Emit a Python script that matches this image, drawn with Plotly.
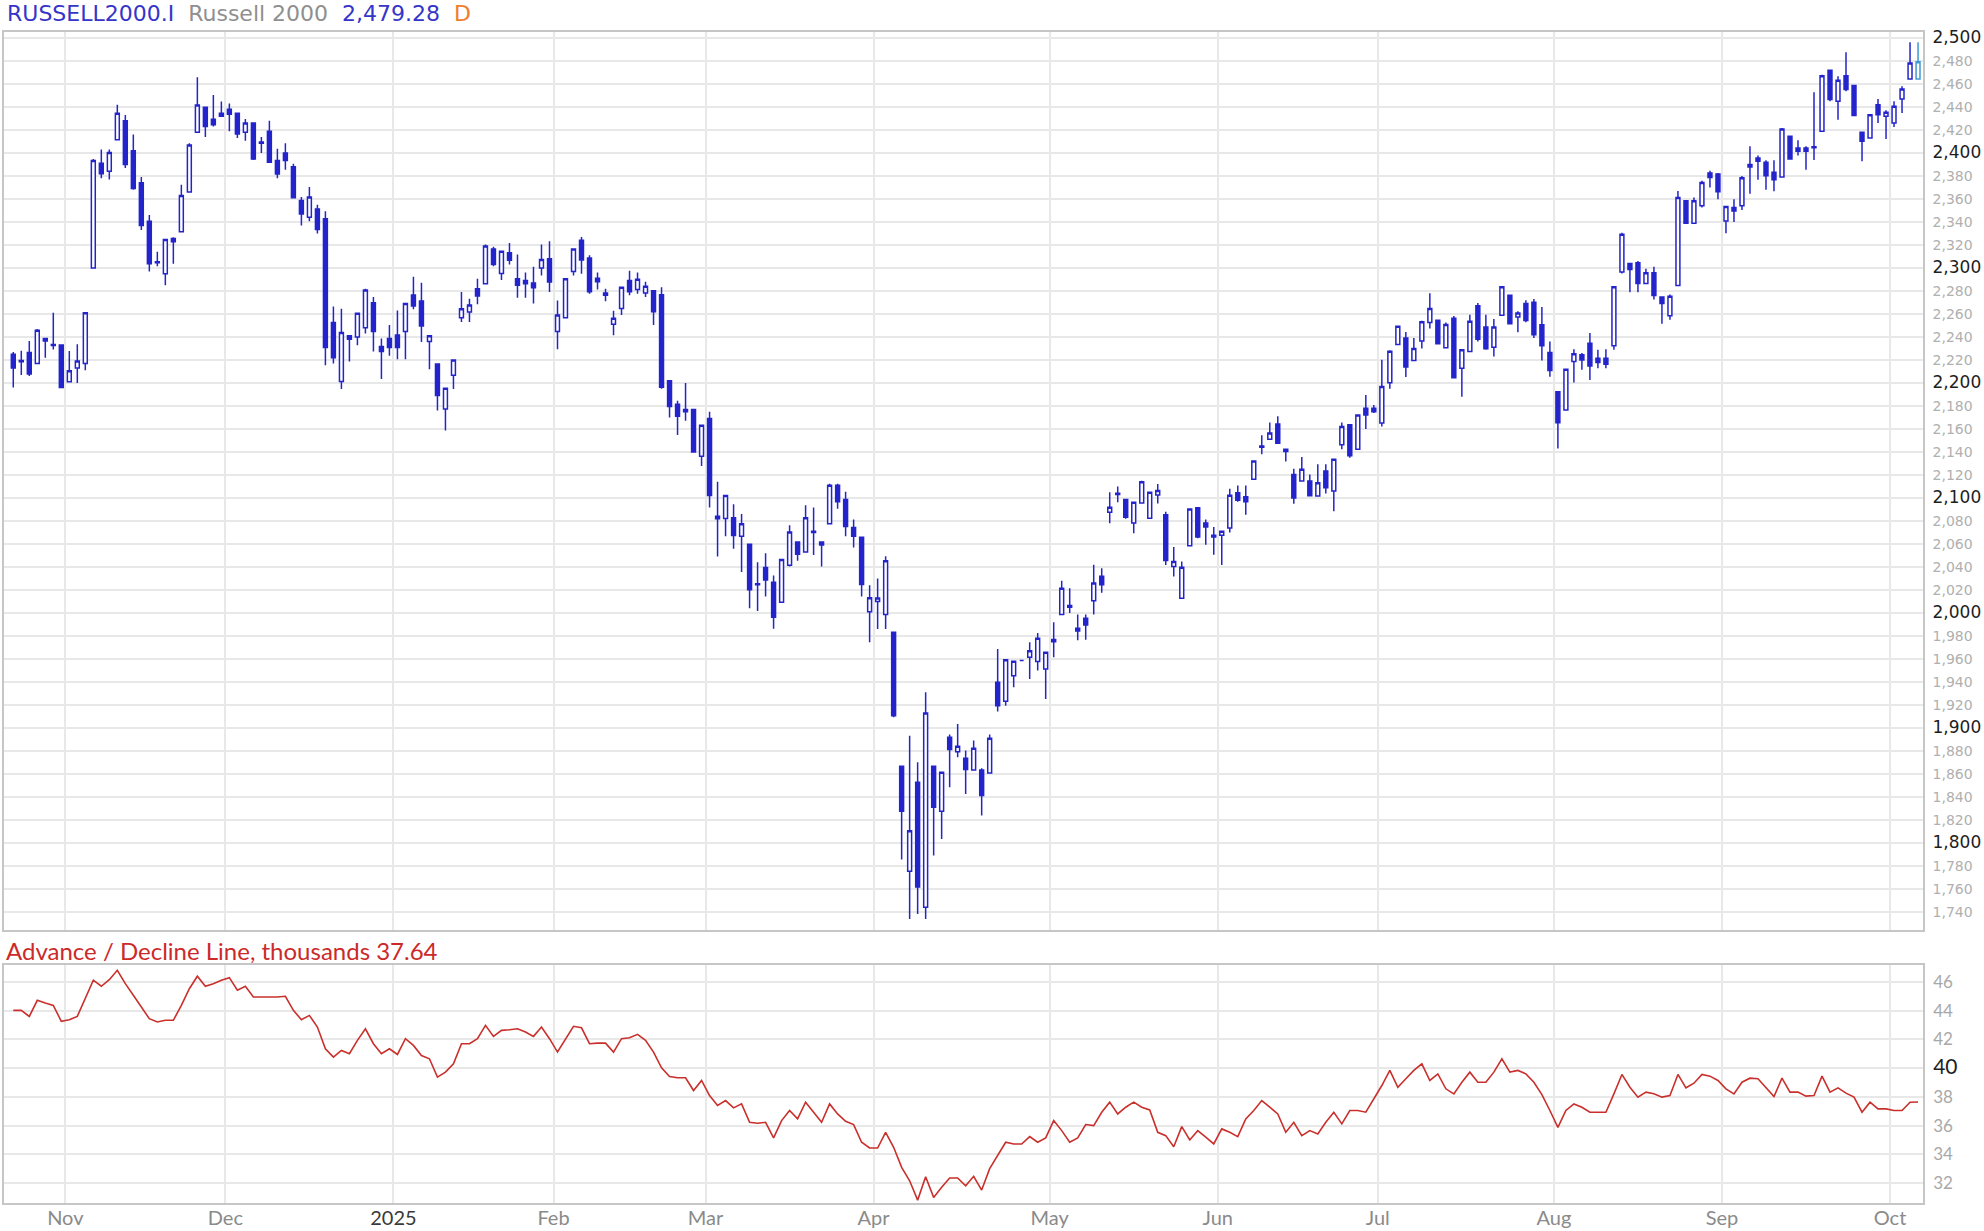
import pandas as pd
import plotly.graph_objects as go
from plotly.subplots import make_subplots

# ---------------- data ----------------
start_date = "2024-10-23"
end_date = "2025-10-06"
holidays = ["2024-11-28", "2024-12-25", "2025-01-01", "2025-01-09", "2025-01-20",
            "2025-02-17", "2025-05-26", "2025-06-19", "2025-07-04", "2025-09-01"]

open_ = [2225, 2219.5, 2226.5, 2217, 2238.6, 2233.5, 2233, 2201, 2213, 2217,
         2300, 2391, 2384, 2411.5, 2428, 2402, 2374, 2340.6, 2305.5, 2295,
         2325.6, 2331.4, 2366, 2418, 2439.8, 2429.4, 2434.6, 2438, 2434.6, 2418,
         2426, 2409.5, 2419, 2393.5, 2400, 2388, 2358.6, 2344, 2351.3, 2342.7,
         2252.5, 2201.3, 2241, 2240, 2248, 2269.8, 2231.7, 2238.6, 2241.8, 2244.7,
         2276.5, 2271.3, 2236, 2216.4, 2177.3, 2206.8, 2256.8, 2261.7, 2282, 2286.3,
         2316.6, 2295.3, 2313.2, 2290.6, 2289.2, 2287, 2300, 2308, 2244.7, 2256.8,
         2297, 2324, 2308.6, 2291, 2278.2, 2251, 2264.7, 2289, 2281.3, 2278.2,
         2280.2, 2276.7, 2202, 2181.5, 2177, 2177, 2136.2, 2169.1, 2084, 2082.1,
         2082.9, 2066.6, 2059.7, 2025.5, 2039.5, 2026.8, 2009.4, 2041.5, 2061.6, 2053,
         2070, 2061.6, 2077.5, 2111.1, 2098.7, 2074.3, 2065.8, 2001, 2010, 1998.6,
         1983.2, 1866.7, 1775.4, 1852.8, 1744.1, 1866.7, 1827.5, 1891.9, 1879.4, 1873.6,
         1863.5, 1863.5, 1860.9, 1939.7, 1923.2, 1945.5, 1958.6, 1961.4, 1957.7, 1951.3,
         1975, 1998.6, 2006.5, 1986.7, 1995.4, 2010.7, 2031.9, 2087.5, 2104, 2098.6,
         2078.3, 2095.7, 2082.3, 2102.6, 2085.5, 2040.4, 2012.7, 2058.4, 2091.4, 2078.3,
         2067.5, 2067.5, 2073.9, 2104.5, 2101, 2116.2, 2145.2, 2151, 2164.3, 2142.4,
         2120.5, 2114.7, 2114.7, 2101.6, 2123.4, 2106, 2146.2, 2163.7, 2142.4, 2178,
         2178, 2165.1, 2200.1, 2233.4, 2239.2, 2219.6, 2236.6, 2252.6, 2254.6, 2230.7,
         2256.2, 2212.8, 2227.4, 2267.2, 2248.6, 2231.1, 2258.8, 2276.3, 2257.4, 2269,
         2270.2, 2250.7, 2226.5, 2192.4, 2176.4, 2218.6, 2224.5, 2234.6, 2221.6, 2221.6,
         2232.3, 2296.4, 2303.9, 2304.5, 2286.5, 2295.8, 2274.8, 2258.5, 2284.7, 2358.4,
         2338.9, 2354, 2382.5, 2381.7, 2340.9, 2352.5, 2354, 2389.9, 2395.7, 2391.9,
         2383.2, 2379.1, 2414.5, 2404.3, 2404.3, 2404.5, 2418.8, 2471.9, 2444.9, 2467.2,
         2458.6, 2418, 2413, 2442, 2431.9, 2426.1, 2447, 2464.3, 2464.3]

high = [2227, 2228, 2236.6, 2247, 2238.6, 2261, 2233.5, 2227.7, 2233.7, 2261,
        2394.7, 2403, 2403, 2442, 2433, 2416, 2379, 2346, 2314, 2324.7,
        2326.8, 2372.4, 2408.4, 2465.8, 2439.8, 2450.5, 2444.7, 2443, 2434.6, 2429.5,
        2426, 2414, 2428, 2403.6, 2408.5, 2390.6, 2361.7, 2370.4, 2355, 2349.3,
        2266.4, 2264.6, 2241, 2260.6, 2282, 2274.7, 2238.6, 2250.5, 2263, 2269.2,
        2292.4, 2287.2, 2241, 2216.4, 2195.3, 2220.7, 2279, 2273.3, 2290.6, 2320.4,
        2318.4, 2314.6, 2321.8, 2311.7, 2296, 2301, 2320.4, 2323.3, 2271.8, 2290.6,
        2316.6, 2327, 2311, 2296, 2282, 2262.7, 2283.2, 2297.6, 2296, 2288,
        2280.2, 2283.2, 2202, 2184.6, 2200, 2177, 2163.3, 2174.9, 2114, 2102.2,
        2094.5, 2086, 2059.7, 2044.2, 2051.9, 2032.6, 2046.5, 2076.3, 2061.6, 2093.7,
        2091.8, 2061.6, 2112.3, 2112.3, 2105.3, 2081.3, 2065.8, 2024, 2029.9, 2049.3,
        1983.2, 1866.7, 1893.3, 1870.1, 1931, 1866.7, 1861.4, 1894.2, 1903.5, 1880.3,
        1889, 1865, 1894.2, 1968.7, 1960, 1958, 1958.6, 1974.5, 1982.6, 1965.8,
        1991.9, 2028, 2021.4, 1998.6, 1998.6, 2042, 2038.8, 2104.9, 2110, 2099,
        2096.2, 2115, 2104.9, 2112.2, 2088, 2057.3, 2044.7, 2090.5, 2092.2, 2081.2,
        2074.8, 2071, 2108, 2110.9, 2110.9, 2132.2, 2154.6, 2165.7, 2171, 2142.4,
        2125.5, 2135.7, 2120.5, 2129.3, 2129.3, 2133.6, 2165.7, 2164.3, 2172.1, 2189.6,
        2180.9, 2220.2, 2228.4, 2249.4, 2244.4, 2239.2, 2254, 2278, 2254.6, 2252.6,
        2258.2, 2228.8, 2259.4, 2269.6, 2259.4, 2255.6, 2283.6, 2276.3, 2262.3, 2271.9,
        2273, 2266.1, 2236, 2192.4, 2212, 2229.4, 2226, 2243.4, 2228.8, 2229.4,
        2283.6, 2330.7, 2303.9, 2306, 2299.3, 2301, 2274.8, 2276.9, 2367, 2358.4,
        2361.3, 2375.8, 2384.6, 2382.5, 2353.4, 2359.8, 2380, 2405.8, 2397.7, 2393.6,
        2393.6, 2421.7, 2414.5, 2411, 2405.8, 2452.8, 2468.1, 2471.9, 2466.7, 2487.5,
        2459.4, 2418, 2433.3, 2447, 2437.1, 2444.9, 2458, 2496.2, 2496.2]

low = [2196, 2207, 2206, 2217, 2222, 2229, 2196, 2201, 2200, 2211,
       2300, 2378, 2377, 2411.5, 2387, 2368, 2333, 2297, 2301.6, 2285,
       2303.6, 2331.4, 2366, 2418, 2414, 2423, 2432, 2419, 2413, 2410.7,
       2394, 2400, 2392, 2378, 2385.5, 2361, 2337, 2340.6, 2330, 2215.5,
       2217, 2194.7, 2218.7, 2232.8, 2243, 2227.3, 2203.4, 2223.6, 2220.7, 2220.7,
       2264, 2235.7, 2212, 2176, 2158.6, 2194.7, 2253, 2253, 2268.4, 2286.3,
       2301.6, 2289.5, 2303, 2274, 2274, 2269, 2293.5, 2279, 2229.4, 2256.8,
       2293.5, 2295, 2277.5, 2281.3, 2271, 2241.5, 2259, 2276.3, 2277.5, 2274.7,
       2250.4, 2195, 2170, 2154.8, 2167.2, 2139.3, 2127.7, 2091.8, 2049.2, 2066.6,
       2055.8, 2035.7, 2004, 2001.6, 2014.4, 1986.2, 2009.4, 2040.3, 2045.3, 2053,
       2050.4, 2040.3, 2077.5, 2090.6, 2066.6, 2056.9, 2014.4, 1974.5, 1986, 1986,
       1909.3, 1785.5, 1733.9, 1738.3, 1733.9, 1789, 1803.5, 1848.4, 1874.5, 1842.6,
       1863.5, 1823.8, 1860.9, 1914.2, 1919.4, 1935.4, 1958.6, 1942.6, 1949.9, 1925.2,
       1961.4, 1998.6, 2000, 1976.2, 1976.8, 1998.6, 2017.5, 2078, 2096.2, 2082,
       2069.3, 2095.7, 2082.3, 2095.1, 2041.8, 2031.6, 2012.7, 2058.4, 2065, 2059.3,
       2050.6, 2041.8, 2070, 2096.6, 2085.5, 2116.2, 2138, 2151, 2147.6, 2131.6,
       2094.9, 2114.7, 2102, 2101, 2103.9, 2088.5, 2142.4, 2135, 2142.4, 2160,
       2173.9, 2162.2, 2194.9, 2233.4, 2205.1, 2219.6, 2229.9, 2247.3, 2233.4, 2230.7,
       2204.5, 2188, 2227.4, 2236, 2228.8, 2223, 2258.8, 2251.5, 2244, 2252.7,
       2239, 2219.5, 2205.5, 2143, 2176.4, 2200.3, 2211.4, 2202.6, 2212.8, 2212.8,
       2228.8, 2295.2, 2278.9, 2278.9, 2286.5, 2272.5, 2251.5, 2255, 2284.7, 2338.9,
       2338.9, 2352.5, 2370, 2359.8, 2330.1, 2340, 2350.5, 2364.6, 2376.8, 2368.1,
       2366.7, 2379.1, 2394.8, 2397.7, 2385.5, 2394, 2418.8, 2444.9, 2429, 2453.6,
       2432.5, 2392.8, 2413, 2426.1, 2412.2, 2422.6, 2434.8, 2464.3, 2464.3]

close = [2213, 2218.5, 2207.7, 2245.8, 2236.6, 2232.5, 2196, 2210.6, 2219, 2261,
         2393.5, 2382, 2400.5, 2434.6, 2390, 2369, 2337, 2303.6, 2304.5, 2324.7,
         2322.7, 2363, 2407, 2441.8, 2423, 2424.5, 2432, 2433.7, 2416.4, 2426,
         2394.7, 2408.5, 2392, 2381.7, 2393.5, 2361, 2347, 2361.7, 2333.4, 2230.8,
         2222, 2243.8, 2238, 2260.6, 2280.8, 2244.7, 2227.3, 2230.8, 2230.8, 2269.2,
         2267, 2249.6, 2241, 2189, 2195.3, 2220, 2264.6, 2267.8, 2275.6, 2319,
         2303, 2314.6, 2306.8, 2285, 2286.3, 2282.8, 2307.4, 2287.7, 2259.1, 2290.6,
         2316.6, 2307, 2279.4, 2288, 2276.3, 2256.2, 2283.2, 2279.4, 2290.2, 2284,
         2262, 2196.2, 2179.6, 2171, 2175, 2140, 2163.3, 2102.2, 2082, 2102.2,
         2067.4, 2077.5, 2020.2, 2024.5, 2028.7, 1996.2, 2046.5, 2070.5, 2051.1, 2082.9,
         2071, 2059, 2111.1, 2096.8, 2075.1, 2066.6, 2024.8, 2013.2, 2013, 2045.5,
         1910.7, 1827.5, 1810.7, 1761.6, 1913, 1831, 1861.4, 1881.2, 1884, 1863.8,
         1882.3, 1841.2, 1891, 1919.4, 1959.4, 1958, 1958.6, 1967.2, 1978, 1965.8,
         1977, 2021.4, 2005, 1984.4, 1989.6, 2026, 2024.6, 2091.9, 2103, 2083.2,
         2096.2, 2114.2, 2104.9, 2106.4, 2045.6, 2044.7, 2039.8, 2090.5, 2066, 2074.8,
         2066, 2071, 2102.4, 2098, 2096.6, 2132.2, 2144.2, 2156.4, 2147.6, 2140.4,
         2100, 2124.9, 2102, 2113.2, 2108.9, 2133.6, 2162.2, 2136.6, 2172.1, 2172.1,
         2175, 2196.9, 2227.5, 2249.4, 2213.8, 2229.9, 2253.2, 2264.8, 2234.2, 2250.8,
         2204.5, 2228.8, 2253.6, 2238, 2229.7, 2248.6, 2283.6, 2251.5, 2260.8, 2254.4,
         2242, 2232.3, 2210.8, 2165.4, 2212, 2225.3, 2220, 2214.8, 2217.8, 2216.3,
         2283.6, 2329.3, 2298.7, 2286.5, 2295.8, 2276, 2269, 2275.4, 2361.3, 2338.9,
         2358.4, 2374.4, 2378.7, 2366.2, 2353.4, 2349.6, 2378.5, 2387.8, 2392.8, 2380.3,
         2376.8, 2420.9, 2394.8, 2401.4, 2401.4, 2405.5, 2467.2, 2446.4, 2463.2, 2455.1,
         2432.5, 2410.1, 2433.3, 2433.3, 2435.4, 2440.6, 2455.6, 2478.3, 2479.28]

ad_line = [44.02, 44.02, 43.6, 44.72, 44.53, 44.37, 43.26, 43.37, 43.6, 44.84,
           46.12, 45.7, 46.16, 46.81, 45.88, 45.07, 44.26, 43.44, 43.21, 43.33,
           43.33, 44.37, 45.53, 46.4, 45.7, 45.88, 46.12, 46.3, 45.42, 45.7,
           44.95, 44.95, 44.9, 44.95, 45.0, 44.02, 43.37, 43.67, 42.86, 41.35,
           40.77, 41.23, 41.0, 41.93, 42.74, 41.7, 41.0, 41.35, 40.95, 42.05,
           41.58, 40.88, 40.65, 39.37, 39.72, 40.3, 41.7, 41.7, 42.05, 42.98,
           42.21, 42.63, 42.67, 42.74, 42.51, 42.21, 42.86, 42.05, 41.12, 42.05,
           42.91, 42.81, 41.7, 41.74, 41.74, 41.12, 42.05, 42.12, 42.35, 41.93,
           41.12, 40.02, 39.42, 39.33, 39.33, 38.44, 39.14, 38.09, 37.4, 37.74,
           37.23, 37.51, 36.23, 36.16, 36.23, 35.14, 36.35, 37.05, 36.47, 37.63,
           36.93, 36.23, 37.51, 36.81, 36.3, 36.07, 34.84, 34.44, 34.44, 35.53,
           34.49, 33.09, 32.16, 30.81, 32.44, 31.0, 31.7, 32.35, 32.35, 31.81,
           32.47, 31.51, 33.0, 33.9, 34.84, 34.72, 34.72, 35.23, 34.84, 35.14,
           36.35, 35.65, 34.84, 35.14, 36.07, 36.0, 36.93, 37.63, 36.81, 37.28,
           37.63, 37.28, 37.09, 35.53, 35.3, 34.53, 35.93, 35.0, 35.65, 35.19,
           34.72, 35.77, 35.53, 35.23, 36.47, 37.05, 37.74, 37.28, 36.81, 35.53,
           36.23, 35.3, 35.65, 35.42, 36.23, 36.93, 36.12, 37.05, 37.05, 36.93,
           37.86, 38.79, 39.84, 38.67, 39.26, 39.84, 40.3, 39.14, 39.6, 38.56,
           38.21, 39.02, 39.72, 39.02, 39.02, 39.72, 40.65, 39.72, 39.84, 39.6,
           39.02, 38.16, 37.05, 35.88, 37.05, 37.51, 37.28, 36.93, 36.93, 36.93,
           38.21, 39.56, 38.67, 37.98, 38.33, 38.21, 37.98, 38.09, 39.56, 38.63,
           38.95, 39.56, 39.44, 39.14, 38.56, 38.21, 39.02, 39.3, 39.26, 38.67,
           38.02, 39.3, 38.33, 38.33, 38.05, 38.09, 39.44, 38.33, 38.63, 38.26,
           37.98, 36.93, 37.63, 37.16, 37.16, 37.05, 37.05, 37.63, 37.64]

month_labels = ["Nov", "Dec", "2025", "Feb", "Mar", "Apr", "May", "Jun",
                "Jul", "Aug", "Sep", "Oct"]
price_ticks = list(range(1740, 2501, 20))
ad_ticks = list(range(32, 47, 2))

symbol = "RUSSELL2000.I"
name = "Russell 2000"
last_price = "2,479.28"
period = "D"
ad_title = "Advance / Decline Line, thousands 37.64"

# ---------------- derived ----------------
dates = pd.bdate_range(start_date, end_date, freq="C", holidays=holidays)
n = len(close)
assert len(dates) == n == len(open_) == len(high) == len(low) == len(ad_line)
idx = list(range(n))
month_start = [i for i in range(n) if i == 0 or dates[i].month != dates[i - 1].month][1:]
grid_x = [i - 0.5 for i in month_start]
xticktext = [("<span style='color:#3a3a3a'>%s</span>" % t) if t.isdigit() else t
             for t in month_labels]

BLUE = "#2424cc"
LAST = "#3f9bd3"
RED = "#c9302c"
GRID = "#e8e8e8"
BORDER = "#c6c6c6"

W, H = 1984, 1231
ML, MR, MT, MB = 4, 61, 32, 28
PW, PH = W - ML - MR, H - MT - MB


def py(pix):
    return 1 - (pix - MT) / PH


def px(pix):
    return (pix - ML) / PW


fig = make_subplots(rows=2, cols=1, shared_xaxes=True)

fig.add_trace(go.Candlestick(
    x=idx[:-1], open=open_[:-1], high=high[:-1], low=low[:-1], close=close[:-1],
    increasing=dict(line=dict(color=BLUE, width=1.5), fillcolor="white"),
    decreasing=dict(line=dict(color=BLUE, width=1.5), fillcolor=BLUE),
    whiskerwidth=0, hoverinfo="skip", showlegend=False), row=1, col=1)
fig.add_trace(go.Candlestick(
    x=idx[-1:], open=open_[-1:], high=high[-1:], low=low[-1:], close=close[-1:],
    increasing=dict(line=dict(color=LAST, width=1.5), fillcolor="white"),
    decreasing=dict(line=dict(color=LAST, width=1.5), fillcolor=LAST),
    whiskerwidth=0, hoverinfo="skip", showlegend=False), row=1, col=1)

fig.add_trace(go.Scatter(x=idx, y=ad_line, mode="lines",
                         line=dict(color=RED, width=1.6),
                         hoverinfo="skip", showlegend=False), row=2, col=1)

price_text = []
for v in price_ticks:
    s = f"{v:,}"
    if v % 100 == 0:
        s = "<span style='font-size:17px;color:#1e1e1e'>%s</span>" % s
    price_text.append(s)
ad_text = []
for v in ad_ticks:
    s = str(v)
    if v % 10 == 0:
        s = "<span style='font-size:21px;color:#1e1e1e'>%s</span>" % s
    ad_text.append(s)

xr = [-1.16, n - 1 + 0.62]
common_x = dict(range=xr, tickmode="array", tickvals=grid_x, showgrid=True,
                gridcolor=GRID, gridwidth=1.5, showline=True, linecolor=BORDER,
                linewidth=1.5, mirror=True, zeroline=False, ticks="",
                rangeslider=dict(visible=False), fixedrange=True, automargin=False)

fig.update_layout(
    width=W, height=H, margin=dict(l=ML, r=MR, t=MT, b=MB, autoexpand=False),
    paper_bgcolor="white", plot_bgcolor="white", showlegend=False,
    boxgap=0.3, boxgroupgap=0.3,
    xaxis=dict(common_x, showticklabels=False),
    xaxis2=dict(common_x, ticktext=xticktext, showticklabels=True,
                ticklabelstandoff=-4,
                tickfont=dict(family="Lato", size=20, color="#8a8a8a")),
    yaxis=dict(domain=[py(930), 1.0], range=[1724.3, 2505.2], side="right",
               tickmode="array", tickvals=price_ticks, ticktext=price_text,
               tickfont=dict(family="DejaVu Sans", size=14, color="#b0b0b0"),
               showgrid=True, gridcolor=GRID, gridwidth=1.5, showline=True,
               linecolor=BORDER, linewidth=1.5, mirror=True, zeroline=False,
               ticks="", ticklabelstandoff=5, fixedrange=True, automargin=False),
    yaxis2=dict(domain=[0.0, py(965)], range=[30.61, 47.18], side="right",
                tickmode="array", tickvals=ad_ticks, ticktext=ad_text,
                tickfont=dict(family="Lato", size=17, color="#a8a8a8"),
                showgrid=True, gridcolor=GRID, gridwidth=1.5, showline=True,
                linecolor=BORDER, linewidth=1.5, mirror=True, zeroline=False,
                ticks="", ticklabelstandoff=5, fixedrange=True, automargin=False),
)

header = ("<span style='color:#3535c8'>%s</span>&nbsp;&nbsp;"
          "<span style='color:#8f8f8f'>%s</span>&nbsp;&nbsp;"
          "<span style='color:#3535c8'>%s</span>&nbsp;&nbsp;"
          "<span style='color:#ee7d2b'>%s</span>") % (symbol, name, last_price, period)
fig.add_annotation(xref="paper", yref="paper", x=px(5), y=py(14), text=header,
                   showarrow=False, xanchor="left", yanchor="middle",
                   font=dict(family="DejaVu Sans", size=22))
fig.add_annotation(xref="paper", yref="paper", x=px(4), y=py(950), text=ad_title,
                   showarrow=False, xanchor="left", yanchor="middle",
                   font=dict(family="Lato", size=24, color="#cc2a2a"))

fig.write_html("out.html")
